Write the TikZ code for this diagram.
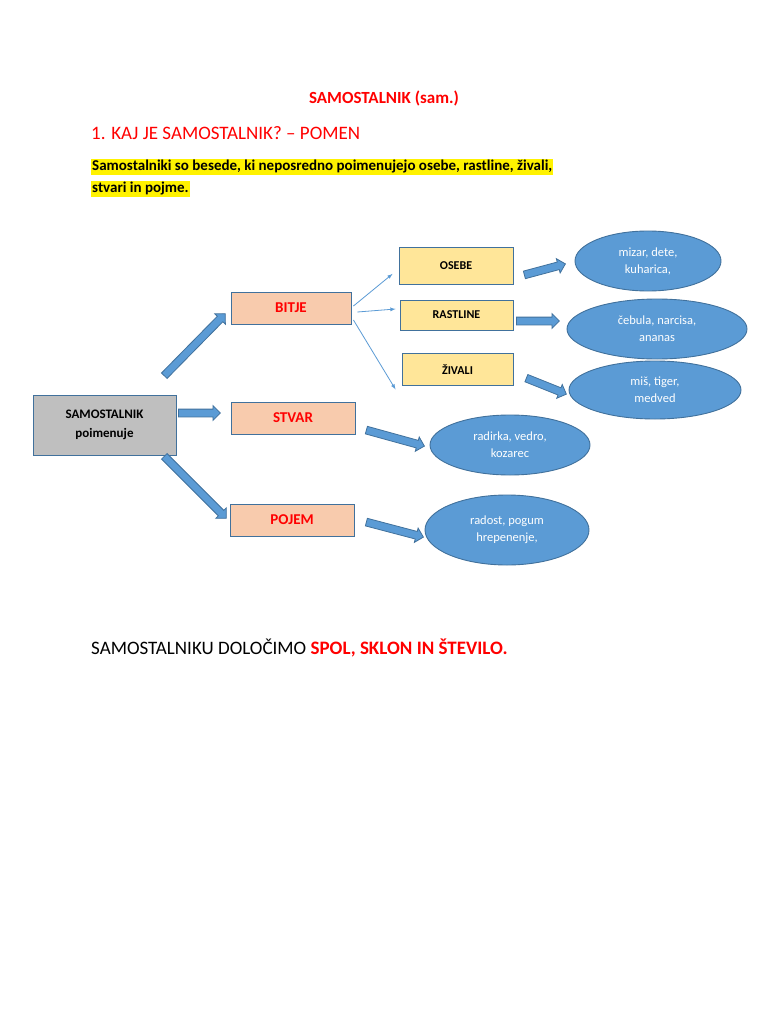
\documentclass[tikz,border=0pt]{standalone}
\usepackage{fontspec}
\setmainfont{Carlito}
\usetikzlibrary{shapes.arrows,shapes.geometric,calc}
\definecolor{bfill}{HTML}{5B9BD5}
\definecolor{bline}{HTML}{41719C}
\definecolor{peach}{HTML}{F8CBAD}
\definecolor{lyel}{HTML}{FFE699}
\definecolor{hred}{HTML}{FF0000}
\newcommand\barr[2]{\path let \p1=($(#2)-(#1)$), \n1={atan2(\y1,\x1)}, \n2={veclen(\x1,\y1)} in node[single arrow, draw=bline, fill=bfill, line width=0.8pt, minimum height=\n2, inner sep=3.5pt, single arrow head extend=3.5pt, rotate=\n1, anchor=tail] at (#1) {};}
\begin{document}
\begin{tikzpicture}[x=1pt,y=-1pt,
  box/.style={draw=bline, line width=0.9pt, font=\bfseries},
  catbox/.style={box, fill=peach, text=hred, font=\fontsize{15}{17}\selectfont\bfseries},
  subbox/.style={box, fill=lyel, font=\fontsize{12}{14}\selectfont\bfseries},
  ell/.style={ellipse, draw=bline, line width=0.9pt, fill=bfill, text=white, align=center, font=\fontsize{12.5}{17}\selectfont, inner sep=0pt},
  thin/.style={draw=bfill, line width=0.8pt, -latex}]
\useasboundingbox[fill=white] (0,0) rectangle (768,1024);
\node[text=hred, font=\fontsize{17}{20}\selectfont\bfseries] at (384,98) {SAMOSTALNIK (sam.)};
\node[text=hred, anchor=west, font=\fontsize{19}{22}\selectfont, inner sep=0pt] at (91,133) {1. KAJ JE SAMOSTALNIK? – POMEN};
\node[fill=yellow, anchor=west, inner sep=1pt, font=\fontsize{15}{18}\selectfont\bfseries] at (91,167) {Samostalniki so besede, ki neposredno poimenujejo osebe, rastline, živali,};
\node[fill=yellow, anchor=west, inner sep=1pt, font=\fontsize{15}{18}\selectfont\bfseries] at (91,189) {stvari in pojme.};
\node[anchor=west, inner sep=0pt, font=\fontsize{19}{22}\selectfont] at (91,648) {SAMOSTALNIKU DOLOČIMO \textcolor{hred}{\bfseries SPOL, SKLON IN ŠTEVILO.}};

\node[box, fill=gray!100!black!50, minimum width=143, minimum height=60, align=center, font=\fontsize{13}{19}\selectfont\bfseries] (sam) at (104.5,425) {SAMOSTALNIK\\poimenuje};
\node[catbox, minimum width=120, minimum height=32] (bitje) at (291,308) {BITJE};
\node[catbox, minimum width=124, minimum height=32] (stvar) at (293,418) {STVAR};
\node[catbox, minimum width=124, minimum height=32] (pojem) at (292,520) {POJEM};
\node[subbox, minimum width=114, minimum height=37, anchor=north, inner sep=3pt] (osebe) at (456,247) {OSEBE};
\node[subbox, minimum width=113, minimum height=30] (rast) at (456.5,315) {RASTLINE};
\node[subbox, minimum width=111, minimum height=32, anchor=north, inner sep=3pt] (ziv) at (457.5,353) {ŽIVALI};

\node[ell, minimum width=146, minimum height=60] (e1) at (648,261) {mizar, dete,\\kuharica,};
\node[ell, minimum width=180, minimum height=60] (e2) at (657,329) {čebula, narcisa,\\ananas};
\node[ell, minimum width=172, minimum height=58] (e3) at (655,390) {miš, tiger,\\medved};
\node[ell, minimum width=160, minimum height=60] (e4) at (510,445) {radirka, vedro,\\kozarec};
\node[ell, minimum width=164, minimum height=70] (e5) at (507,530) {radost, pogum\\hrepenenje,};

\coordinate (a1) at (164,376); \coordinate (b1) at (225,314);
\coordinate (a2) at (178,413); \coordinate (b2) at (220,413);
\coordinate (a3) at (164,456); \coordinate (b3) at (226,518);
\coordinate (a4) at (366,430); \coordinate (b4) at (424,446);
\coordinate (a5) at (366,522); \coordinate (b5) at (423,537);
\coordinate (a6) at (524,275); \coordinate (b6) at (565,264);
\coordinate (a7) at (516,321); \coordinate (b7) at (559,321);
\coordinate (a8) at (526,378); \coordinate (b8) at (566,394);
\barr{a1}{b1}\barr{a2}{b2}\barr{a3}{b3}\barr{a4}{b4}
\barr{a5}{b5}\barr{a6}{b6}\barr{a7}{b7}\barr{a8}{b8}

\draw[thin] ($(bitje.east)+(2,-2)$) -- ($(osebe.south west)+(-6,-11)$);
\draw[thin] ($(bitje.east)+(6,4)$) -- ($(rast.west)+(-4,-6)$);
\draw[thin] ($(bitje.east)+(2,12)$) -- ($(ziv.west)+(-6,20)$);
\end{tikzpicture}
\end{document}
